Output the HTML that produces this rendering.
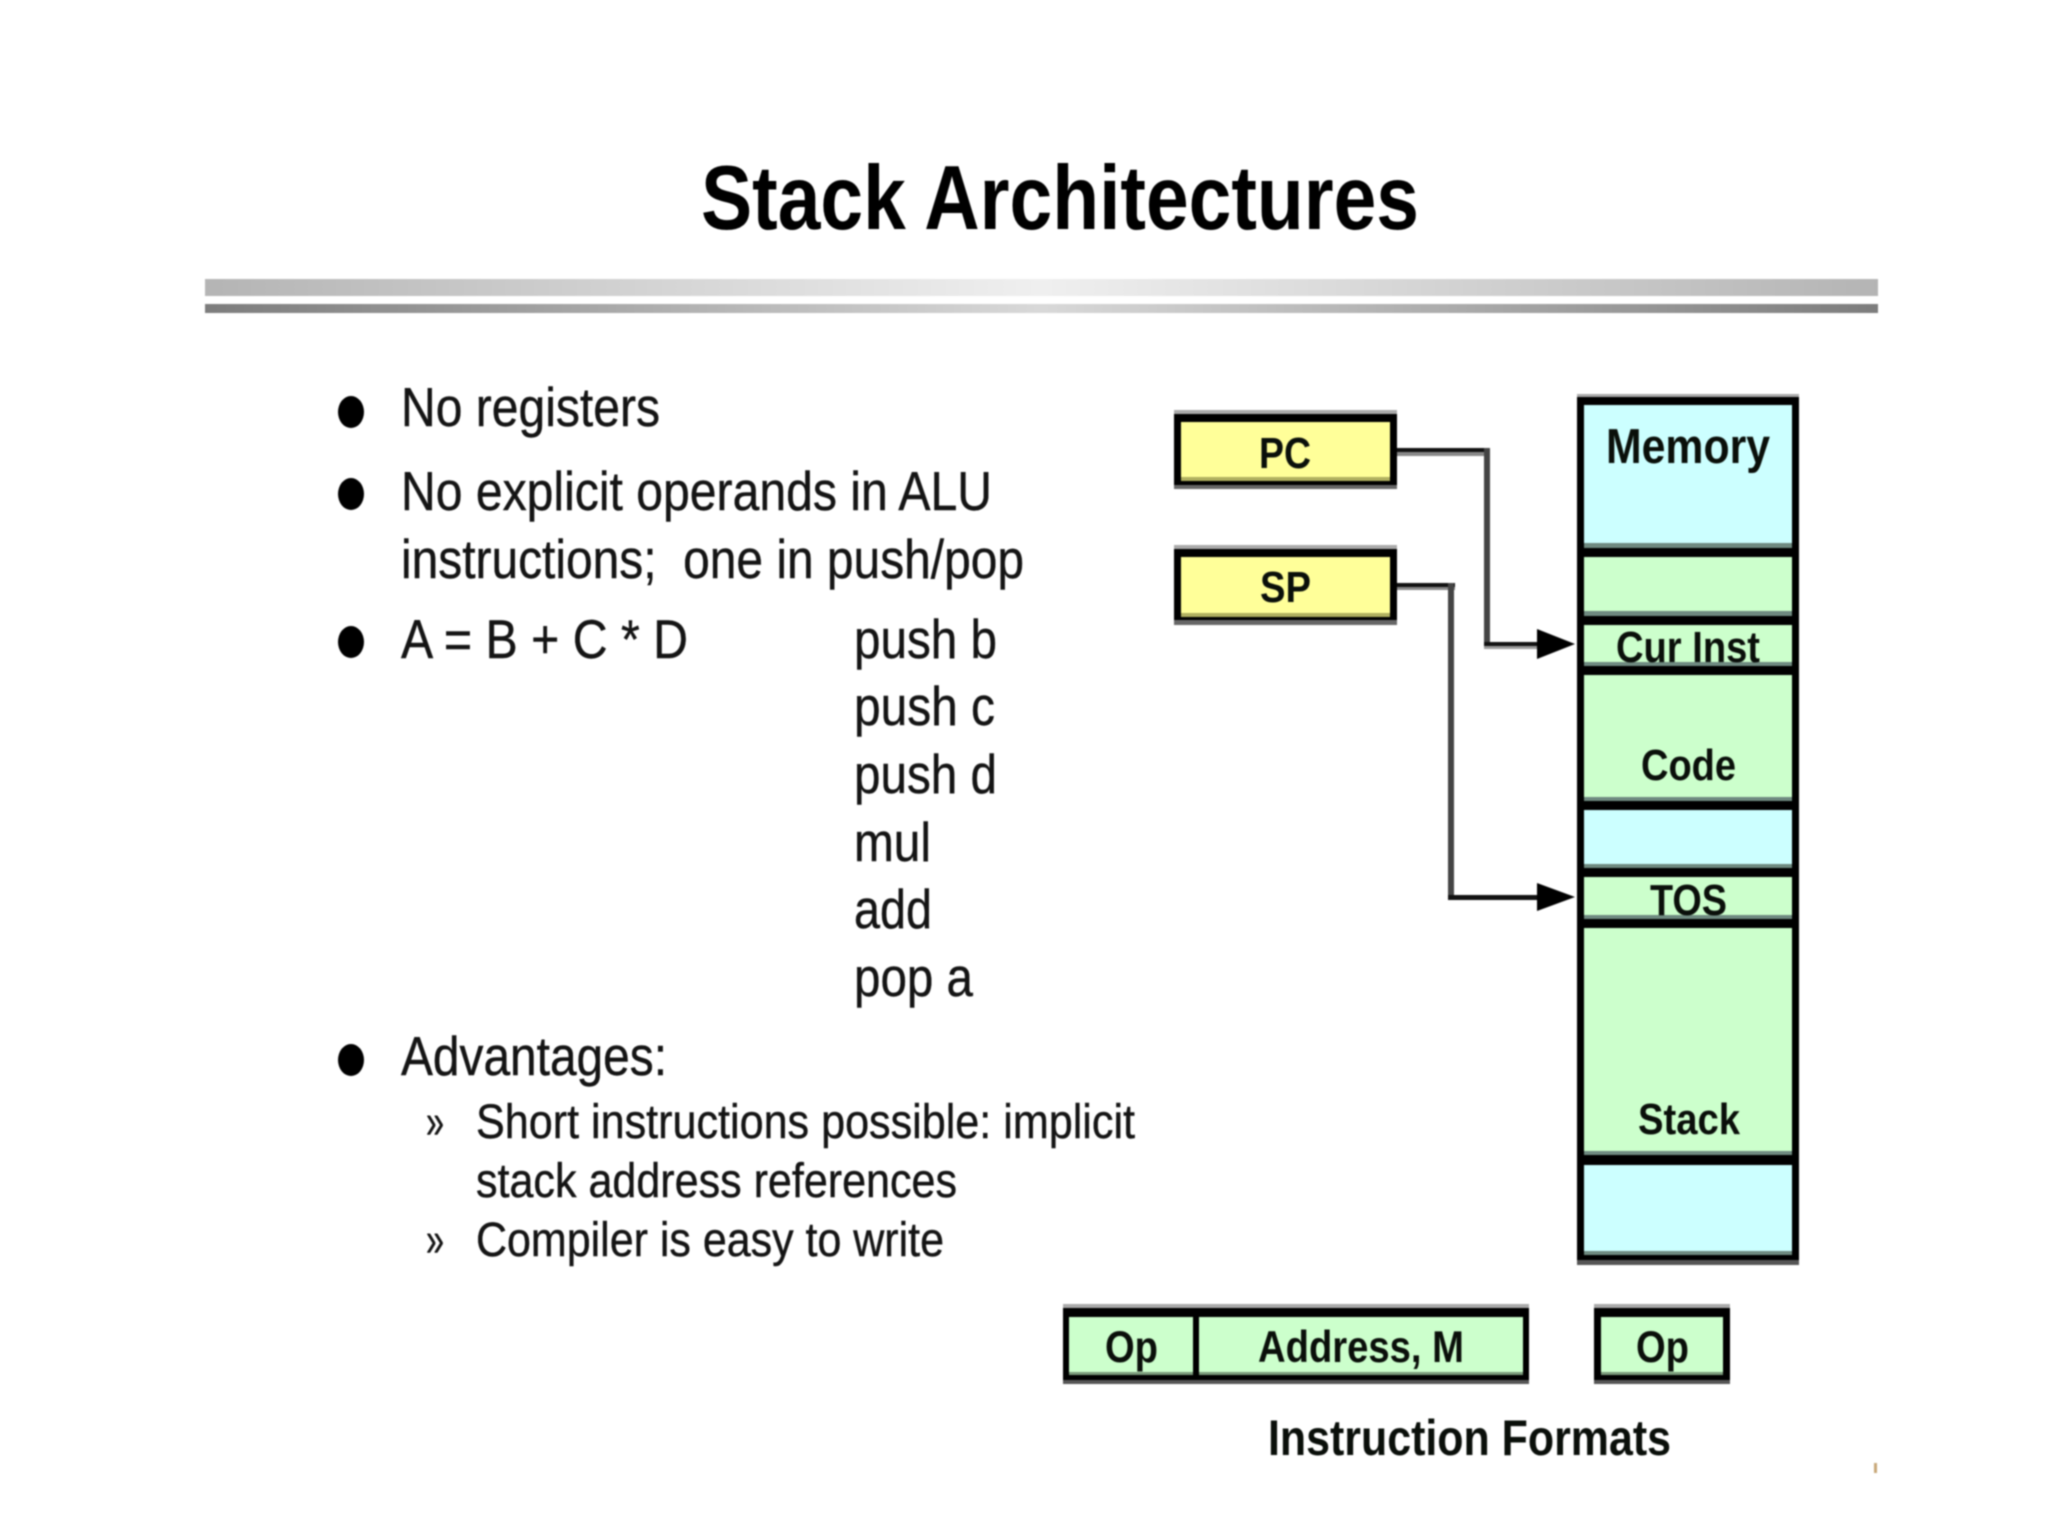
<!DOCTYPE html>
<html><head><meta charset="utf-8"><title>Stack Architectures</title>
<style>
html,body{margin:0;padding:0;background:#fff;width:2048px;height:1536px;overflow:hidden}
svg{display:block;filter:blur(0.9px)}
text{font-family:"Liberation Sans",Arial,sans-serif;fill:#141414;stroke:#141414;stroke-width:0.35px}
.b{font-weight:bold;fill:#0a0f0a;stroke:none}
</style></head><body>
<svg width="2048" height="1536" viewBox="0 0 2048 1536" xmlns="http://www.w3.org/2000/svg">
<defs>
<linearGradient id="g1"><stop offset="0" stop-color="#b4b4b4"/><stop offset=".5" stop-color="#efefef"/><stop offset="1" stop-color="#b4b4b4"/></linearGradient>
<linearGradient id="g2"><stop offset="0" stop-color="#7c7c7c"/><stop offset=".5" stop-color="#d8d8d8"/><stop offset="1" stop-color="#7c7c7c"/></linearGradient>
</defs>
<rect width="2048" height="1536" fill="#fff"/>
<text class="b" style="fill:#000" font-size="76" textLength="718" lengthAdjust="spacingAndGlyphs" transform="translate(701,229) scale(1,1.2)">Stack Architectures</text>
<rect x="205" y="279" width="1673" height="17" fill="url(#g1)"/>
<rect x="205" y="304" width="1673" height="9" fill="url(#g2)"/>

<ellipse cx="351" cy="412" rx="13" ry="16" fill="#000"/>
<ellipse cx="351" cy="494" rx="13" ry="16" fill="#000"/>
<ellipse cx="351" cy="642" rx="13" ry="16" fill="#000"/>
<ellipse cx="351" cy="1060" rx="13" ry="16" fill="#000"/>

<g font-size="47">
<text textLength="259" lengthAdjust="spacingAndGlyphs" transform="translate(401,426) scale(1,1.17)">No registers</text>
<text textLength="591" lengthAdjust="spacingAndGlyphs" transform="translate(401,510) scale(1,1.17)">No explicit operands in ALU</text>
<text textLength="623" lengthAdjust="spacingAndGlyphs" xml:space="preserve" transform="translate(401,578) scale(1,1.17)">instructions;  one in push/pop</text>
<text textLength="287" lengthAdjust="spacingAndGlyphs" transform="translate(401,658) scale(1,1.17)">A = B + C * D</text>
<text textLength="143" lengthAdjust="spacingAndGlyphs" transform="translate(854,658) scale(1,1.17)">push b</text>
<text textLength="141" lengthAdjust="spacingAndGlyphs" transform="translate(854,725) scale(1,1.17)">push c</text>
<text textLength="143" lengthAdjust="spacingAndGlyphs" transform="translate(854,793) scale(1,1.17)">push d</text>
<text textLength="77" lengthAdjust="spacingAndGlyphs" transform="translate(854,861) scale(1,1.17)">mul</text>
<text textLength="78" lengthAdjust="spacingAndGlyphs" transform="translate(854,928) scale(1,1.17)">add</text>
<text textLength="119" lengthAdjust="spacingAndGlyphs" transform="translate(854,996) scale(1,1.17)">pop a</text>
<text textLength="266" lengthAdjust="spacingAndGlyphs" transform="translate(401,1075) scale(1,1.17)">Advantages:</text>
</g>
<g font-size="41">
<text textLength="18" lengthAdjust="spacingAndGlyphs" transform="translate(426,1138) scale(1,1.17)">»</text>
<text textLength="659" lengthAdjust="spacingAndGlyphs" transform="translate(476,1138) scale(1,1.17)">Short instructions possible: implicit</text>
<text textLength="481" lengthAdjust="spacingAndGlyphs" transform="translate(476,1197) scale(1,1.17)">stack address references</text>
<text textLength="18" lengthAdjust="spacingAndGlyphs" transform="translate(426,1256) scale(1,1.17)">»</text>
<text textLength="468" lengthAdjust="spacingAndGlyphs" transform="translate(476,1256) scale(1,1.17)">Compiler is easy to write</text>
</g>

<!-- PC -->
<rect x="1174" y="410" width="223" height="5" fill="#aaa"/>
<rect x="1174" y="414" width="223" height="75" fill="#000"/>
<rect x="1174" y="485" width="223" height="4" fill="#666"/>
<rect x="1181" y="422" width="209" height="59" fill="#ffff99"/>
<rect x="1181" y="477" width="209" height="4" fill="#b0b060"/>
<!-- SP -->
<rect x="1174" y="545" width="223" height="5" fill="#aaa"/>
<rect x="1174" y="549" width="223" height="76" fill="#000"/>
<rect x="1174" y="620" width="223" height="5" fill="#666"/>
<rect x="1181" y="557" width="209" height="60" fill="#ffff99"/>
<rect x="1181" y="613" width="209" height="4" fill="#b0b060"/>

<text class="b" font-size="36" textLength="52" lengthAdjust="spacingAndGlyphs" transform="translate(1259,468) scale(1,1.2)">PC</text>
<text class="b" font-size="36" textLength="51" lengthAdjust="spacingAndGlyphs" transform="translate(1260,602) scale(1,1.2)">SP</text>

<!-- connectors -->
<rect x="1397" y="452" width="93" height="4" fill="#888"/>
<rect x="1397" y="448" width="93" height="4" fill="#111"/>
<rect x="1484" y="448" width="6" height="199" fill="#444"/>
<rect x="1484" y="642" width="60" height="4" fill="#111"/>
<rect x="1484" y="646" width="60" height="3" fill="#999"/>
<polygon points="1537,629 1575,644 1537,659" fill="#000"/>
<rect x="1397" y="587" width="58" height="3" fill="#888"/>
<rect x="1397" y="583" width="58" height="4" fill="#111"/>
<rect x="1448" y="583" width="6" height="316" fill="#444"/>
<rect x="1448" y="895" width="96" height="5" fill="#111"/>
<polygon points="1537,883 1575,897 1537,911" fill="#000"/>

<!-- memory column -->
<rect x="1577" y="394" width="222" height="4" fill="#aaa"/>
<rect x="1577" y="397" width="222" height="864" fill="#000"/>
<rect x="1577" y="1260" width="222" height="5" fill="#555"/>
<rect x="1584" y="405" width="208" height="140" fill="#ccffff"/>
<rect x="1584" y="557" width="208" height="56" fill="#ccffcc"/>
<rect x="1584" y="625" width="208" height="39" fill="#ccffcc"/>
<rect x="1584" y="675" width="208" height="124" fill="#ccffcc"/>
<rect x="1584" y="810" width="208" height="56" fill="#ccffff"/>
<rect x="1584" y="877" width="208" height="40" fill="#ccffcc"/>
<rect x="1584" y="928" width="208" height="225" fill="#ccffcc"/>
<rect x="1584" y="1165" width="208" height="88" fill="#ccffff"/>
<g fill="#6f8a80">
<rect x="1584" y="543" width="208" height="5"/>
<rect x="1584" y="611" width="208" height="5"/>
<rect x="1584" y="662" width="208" height="4"/>
<rect x="1584" y="797" width="208" height="4"/>
<rect x="1584" y="864" width="208" height="4"/>
<rect x="1584" y="915" width="208" height="4"/>
<rect x="1584" y="1151" width="208" height="4"/>
<rect x="1584" y="1251" width="208" height="4"/>
</g>
<text class="b" font-size="42" textLength="164" lengthAdjust="spacingAndGlyphs" transform="translate(1606,463) scale(1,1.17)">Memory</text>
<text class="b" font-size="36" textLength="144" lengthAdjust="spacingAndGlyphs" transform="translate(1616,662) scale(1,1.2)">Cur Inst</text>
<text class="b" font-size="36" textLength="95" lengthAdjust="spacingAndGlyphs" transform="translate(1641,780) scale(1,1.2)">Code</text>
<text class="b" font-size="36" textLength="77" lengthAdjust="spacingAndGlyphs" transform="translate(1650,915) scale(1,1.2)">TOS</text>
<text class="b" font-size="36" textLength="102" lengthAdjust="spacingAndGlyphs" transform="translate(1638,1134) scale(1,1.2)">Stack</text>

<!-- instruction formats -->
<rect x="1063" y="1304" width="466" height="5" fill="#aaa"/>
<rect x="1063" y="1308" width="466" height="75" fill="#000"/>
<rect x="1063" y="1380" width="466" height="4" fill="#555"/>
<rect x="1069" y="1317" width="124" height="58" fill="#ccffcc"/>
<rect x="1199" y="1317" width="324" height="58" fill="#ccffcc"/>
<rect x="1069" y="1372" width="124" height="3" fill="#7a9a7a"/>
<rect x="1199" y="1372" width="324" height="3" fill="#7a9a7a"/>
<rect x="1594" y="1304" width="136" height="5" fill="#aaa"/>
<rect x="1594" y="1308" width="136" height="75" fill="#000"/>
<rect x="1594" y="1380" width="136" height="4" fill="#555"/>
<rect x="1601" y="1317" width="122" height="58" fill="#ccffcc"/>
<rect x="1601" y="1372" width="122" height="3" fill="#7a9a7a"/>
<text class="b" font-size="37" textLength="53" lengthAdjust="spacingAndGlyphs" transform="translate(1105,1362) scale(1,1.2)">Op</text>
<text class="b" font-size="37" textLength="206" lengthAdjust="spacingAndGlyphs" transform="translate(1258,1362) scale(1,1.2)">Address, M</text>
<text class="b" font-size="37" textLength="53" lengthAdjust="spacingAndGlyphs" transform="translate(1636,1362) scale(1,1.2)">Op</text>
<text class="b" font-size="42.7" textLength="403" lengthAdjust="spacingAndGlyphs" transform="translate(1268,1455) scale(1,1.17)">Instruction Formats</text>
<rect x="1874" y="1463" width="3" height="10" fill="#c8a878"/>
</svg>
</body></html>
